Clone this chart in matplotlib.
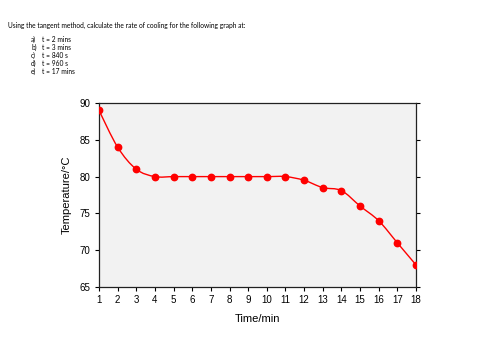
import numpy as np
import matplotlib.pyplot as plt
from matplotlib.path import Path
import matplotlib.patches as mpatches

# data
time_min = [1, 2, 3, 4, 5, 6, 7, 8, 9, 10, 11, 12, 13, 14, 15, 16, 17, 18]
temp_c = [89, 84, 81, 80, 80, 80, 80, 80, 80, 80, 80, 79.5, 78.5, 78.1, 76, 74, 71, 68]
x_ticks = list(range(1, 19))
y_ticks = [65, 70, 75, 80, 85, 90]

questions = [
    ("a)", "t = 2 mins"),
    ("b)", "t = 3 mins"),
    ("c)", "t = 840 s"),
    ("d)", "t = 960 s"),
    ("e)", "t = 17 mins"),
]


def smooth_path(x, y, k=1 / 6):
    ''' Catmull-Rom style bezier path through the points '''
    x = np.asarray(x, float)
    y = np.asarray(y, float)
    verts = [(x[0], y[0])]
    codes = [Path.MOVETO]
    n = len(x)
    for i in range(n - 1):
        x0, y0 = (x[i - 1], y[i - 1]) if i > 0 else (x[i], y[i])
        x3, y3 = (x[i + 2], y[i + 2]) if i + 2 < n else (x[i + 1], y[i + 1])
        c1 = (x[i] + (x[i + 1] - x0) * k, y[i] + (y[i + 1] - y0) * k)
        c2 = (x[i + 1] - (x3 - x[i]) * k, y[i + 1] - (y3 - y[i]) * k)
        verts += [c1, c2, (x[i + 1], y[i + 1])]
        codes += [Path.CURVE4] * 3
    return Path(verts, codes)


fig = plt.figure(figsize=(5, 3.53), dpi=100)
fig.patch.set_facecolor("white")

# worksheet text
fig.text(8 / 500, 1 - 25 / 353, "Using the tangent method, calculate the rate of cooling for the following graph at:",
         fontsize=4.8, family="Lato", va="center", ha="left")
for i, (lab, txt) in enumerate(questions):
    yy = 1 - (39 + i * 8.2) / 353
    fig.text(31 / 500, yy, lab, fontsize=4.8, family="Lato", va="center")
    fig.text(42 / 500, yy, txt, fontsize=4.8, family="Lato", va="center")

ax = fig.add_axes([99 / 500, 1 - 287 / 353, 317 / 500, 184 / 353])
ax.set_facecolor("#f2f2f2")

ax.add_patch(mpatches.PathPatch(smooth_path(time_min, temp_c), facecolor="none",
                                edgecolor="red", lw=1.0, zorder=2))
ax.plot(time_min, temp_c, ls="none", marker="o", color="red", markersize=4.6, zorder=3)

ax.set_xlim(1, 18)
ax.set_ylim(65, 90)
ax.set_xticks(x_ticks)
ax.set_yticks(y_ticks)
ax.tick_params(axis="both", labelsize=7, direction="out", length=3, width=0.8, pad=3,
               labelfontfamily="Liberation Sans")
ax.tick_params(axis="y", right=True, labelright=False)
for s in ax.spines.values():
    s.set_linewidth(0.9)
    s.set_color("#222222")

ax.set_xlabel("Time/min", fontsize=8, family="Liberation Sans", labelpad=6)
ax.set_ylabel("Temperature/°C", fontsize=8, family="Liberation Sans", labelpad=6)

fig.savefig("out.png", dpi=100)
